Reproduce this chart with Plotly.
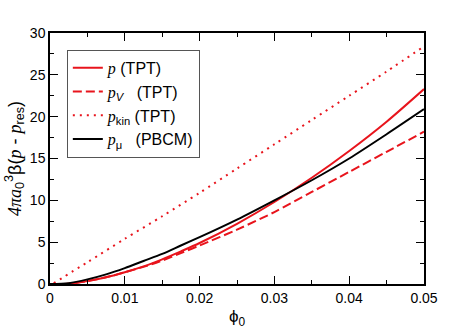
import plotly.graph_objects as go

phi = [0.0, 0.0025, 0.005, 0.0075, 0.01, 0.0125, 0.015, 0.0175, 0.02,
       0.025, 0.03, 0.035, 0.04, 0.045, 0.05]
p_tpt = [0.0, 0.03, 0.35, 0.8, 1.4, 2.1, 2.95, 3.9, 4.9,
         7.2, 9.8, 12.7, 15.9, 19.4, 23.3]
pv_tpt = [0.0, 0.03, 0.35, 0.8, 1.4, 2.05, 2.8, 3.7, 4.6,
          6.5, 8.6, 11.0, 13.4, 15.8, 18.2]
phi_kin = [0.0005, 0.005, 0.01, 0.015, 0.02, 0.025, 0.03, 0.035, 0.04, 0.045, 0.05]
pkin_tpt = [0.1, 2.6, 5.4, 8.1, 10.9, 13.8, 16.7, 19.6, 22.5, 25.4, 28.4]
pmu_pbcm = [0.0, 0.1, 0.55, 1.15, 1.9, 2.75, 3.6, 4.6, 5.6,
            7.7, 10.0, 12.4, 15.0, 17.9, 20.9]

RED = "#e8141c"
SERIF = "<span style='font-family:\"Liberation Serif\", \"DejaVu Serif\", serif'><i>p</i></span>"

fig = go.Figure()
fig.add_trace(go.Scatter(x=phi, y=p_tpt, mode="lines", line=dict(color=RED, width=2, shape="spline", smoothing=0.8),
                         name=SERIF + " (TPT)"))
fig.add_trace(go.Scatter(x=phi, y=pv_tpt, mode="lines", line=dict(color=RED, width=2, dash="9px,4px", shape="spline", smoothing=0.8),
                         name=SERIF + "<sub><i>V</i></sub>   (TPT)"))
fig.add_trace(go.Scatter(x=phi_kin, y=pkin_tpt, mode="lines", line=dict(color=RED, width=2, dash="2px,5px", shape="spline", smoothing=0.8),
                         name=SERIF + "<sub>kin</sub> (TPT)"))
fig.add_trace(go.Scatter(x=phi, y=pmu_pbcm, mode="lines", line=dict(color="black", width=2, shape="spline", smoothing=0.8),
                         name=SERIF + "<sub>μ</sub>   (PBCM)"))

axis_common = dict(showline=True, linecolor="black", linewidth=1.5, mirror="allticks",
                   ticks="inside", ticklen=8, tickwidth=1.2, tickcolor="black",
                   showgrid=False, zeroline=False,
                   tickfont=dict(family="Liberation Sans, Arial, sans-serif", size=14, color="black"))

fig.update_xaxes(range=[0, 0.05], tickvals=[0, 0.01, 0.02, 0.03, 0.04, 0.05],
                 ticktext=["0", "0.01", "0.02", "0.03", "0.04", "0.05"],
                 minor=dict(ticks="inside", ticklen=4, tickcolor="black", dtick=0.005, tick0=0),
                 title=dict(text="ϕ<sub>0</sub>", font=dict(family="Liberation Sans, Arial", size=17, color="black"),
                            standoff=6),
                 **axis_common)
fig.update_yaxes(range=[0, 30], tickvals=[0, 5, 10, 15, 20, 25, 30],
                 minor=dict(ticks="inside", ticklen=4, tickcolor="black", dtick=2.5, tick0=0),
                 title=dict(text="<span style='font-family:\"Liberation Serif\", serif'><i>4πa</i></span><sub>0</sub><sup>3</sup>β(" + SERIF + " - " + SERIF + "<sub>res</sub>)",
                            font=dict(family="Liberation Sans, Arial", size=18, color="black"),
                            standoff=4),
                 **axis_common)

fig.update_layout(
    width=474, height=335,
    margin=dict(l=50, r=50, t=33, b=51),
    paper_bgcolor="white", plot_bgcolor="white",
    font=dict(family="Liberation Sans, Arial, sans-serif", size=16, color="black"),
    legend=dict(x=0.045, y=0.933, xanchor="left", yanchor="top",
                bordercolor="#555555", borderwidth=1, bgcolor="white",
                font=dict(size=16, color="black"), tracegroupgap=0,
                itemwidth=30),
    showlegend=True,
)

fig.write_html("out.html")
